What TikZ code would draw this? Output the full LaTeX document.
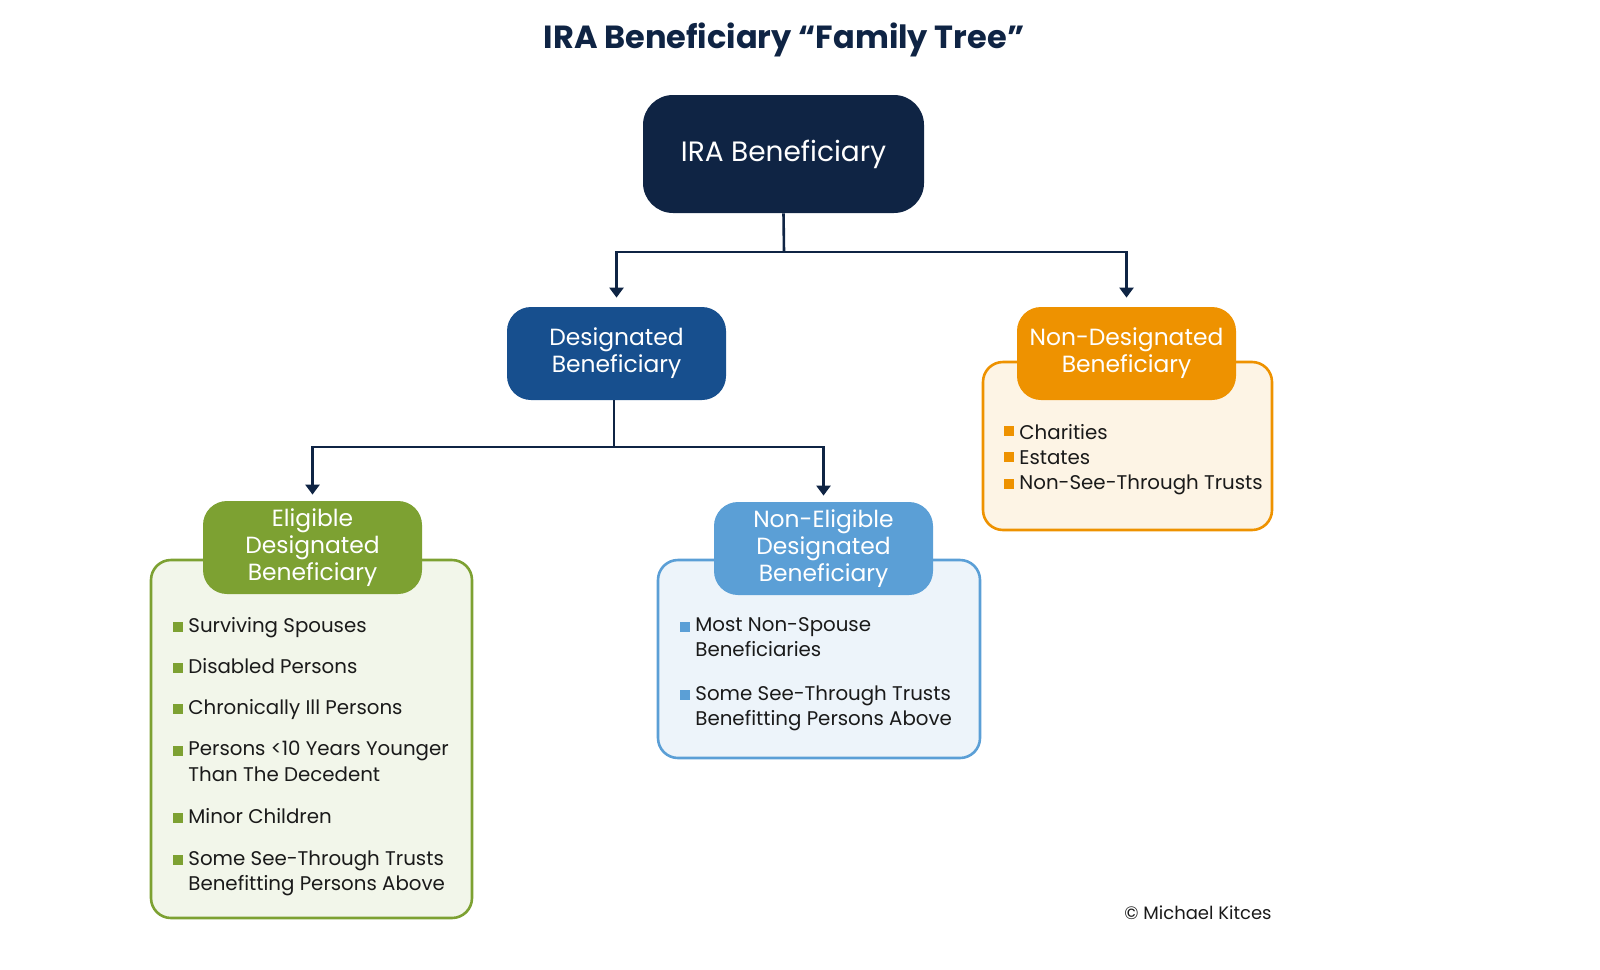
\documentclass[tikz,border=0pt]{standalone}
\usepackage{fontspec}
\setmainfont{Poppins}
\usetikzlibrary{arrows.meta}
\definecolor{navy}{HTML}{0F2444}
\definecolor{dblue}{HTML}{174F8E}
\definecolor{lblue}{HTML}{5B9FD6}
\definecolor{orng}{HTML}{EE9200}
\definecolor{grn}{HTML}{7DA132}
\definecolor{txt}{HTML}{1A1A1A}
\begin{document}
\begin{tikzpicture}[x=0.5pt,y=-0.5pt,
  head/.style={rounded corners=12pt,inner sep=0pt,text=white,align=center,font=\fontsize{11.7}{13.4}\selectfont},
  panel/.style={rounded corners=10pt,line width=1.3pt},
  conn/.style={navy,line width=1.3pt},
  arr/.style={conn,-{Triangle[width=7pt,length=5pt]}},
  item/.style={anchor=north west,align=left,text=txt,font=\fontsize{9.9}{12.8}\selectfont,inner sep=0pt}]
\useasboundingbox (0,0) rectangle (1600,969);
\node[font=\bfseries\fontsize{16}{20}\selectfont,text=navy] (title) at (784,40) {IRA Beneficiary “Family Tree”};
% root
\node[head,fill=navy,rounded corners=15pt,minimum width=140.5pt,minimum height=59pt,font=\fontsize{14}{17}\selectfont] (root) at (783.5,154) {IRA Beneficiary};
% panels
\draw[panel,draw=orng,fill=orng!10] (983,362) rectangle (1272,530);
\draw[panel,draw=grn,fill=grn!10] (151,560) rectangle (472,918);
\draw[panel,draw=lblue,fill=lblue!11] (658,560) rectangle (980,758);
% heads
\node[head,fill=dblue,minimum width=109.5pt,minimum height=46.5pt] (des) at (616.5,353.5) {Designated\\Beneficiary};
\node[head,fill=orng,minimum width=109.5pt,minimum height=46.5pt] (nondes) at (1126.5,353.5) {Non-Designated\\Beneficiary};
\node[head,fill=grn,minimum width=109.5pt,minimum height=46.5pt] (elig) at (312.5,547.5) {Eligible\\Designated\\Beneficiary};
\node[head,fill=lblue,minimum width=109.5pt,minimum height=46.5pt] (nonelig) at (823.5,548.5) {Non-Eligible\\Designated\\Beneficiary};
% connectors
\coordinate (j1) at (784,252);
\coordinate (j2) at (614,447);
\draw[conn] (root.south) -- (j1);
\draw[arr] (j1) -| ([yshift=4.5pt]des.north);
\draw[arr] (j1) -| ([yshift=4.5pt]nondes.north);
\draw[conn] (des.south -| j2) -- (j2);
\draw[arr] (j2) -| ([yshift=3pt]elig.north);
\draw[arr] (j2) -| ([yshift=3pt]nonelig.north);
% bullets
\foreach \y/\t [count=\i] in {432/Charities,458/Estates,485/Non-See-Through Trusts}{
  \fill[orng] (1004,\y-6) rectangle (1014,\y+4);
  \node[item,anchor=west] (o\i) at (1019,\y) {\t};}
\foreach \y/\t [count=\i] in {617/Surviving Spouses,658/Disabled Persons,699/Chronically Ill Persons,741/{Persons <10 Years Younger\\Than The Decedent},808/Minor Children,850/{Some See-Through Trusts\\Benefitting Persons Above}}{
  \fill[grn] (173,\y+5) rectangle (183,\y+15);
  \node[item] (g\i) at (188,\y) {\t};}
\foreach \y/\t [count=\i] in {617/{Most Non-Spouse\\Beneficiaries},685/{Some See-Through Trusts\\Benefitting Persons Above}}{
  \fill[lblue] (680,\y+5) rectangle (690,\y+15);
  \node[item] (b\i) at (695,\y) {\t};}
\node[font=\fontsize{9}{11}\selectfont,text=txt] (copy) at (1198,913) {© Michael Kitces};
\end{tikzpicture}
\end{document}
